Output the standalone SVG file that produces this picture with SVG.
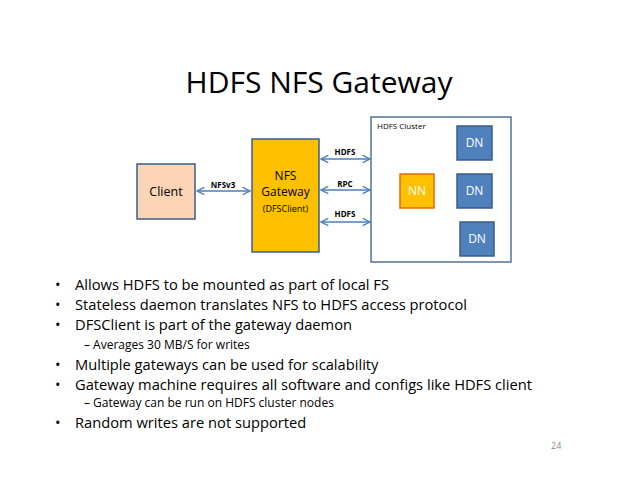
<svg xmlns="http://www.w3.org/2000/svg" width="638" height="493" viewBox="0 0 638 493">
<defs>
<marker id="a" viewBox="0 0 10 10" refX="9" refY="5" markerWidth="7" markerHeight="7" orient="auto-start-reverse"><path d="M1,1 L9,5 L1,9" fill="none" stroke="#4a7ebb" stroke-width="1.5"/></marker>
</defs>
<style>
text{font-family:"Open Sans","Liberation Sans",sans-serif;fill:#000}
.c{stroke:#4a7ebb;stroke-width:1.3;fill:none;marker-start:url(#a);marker-end:url(#a)}
.lbl{font-size:8px;font-weight:bold;text-anchor:middle}
.dn{fill:#4f81bd;stroke:#385d8a;stroke-width:1.5}
.w{fill:#fff;font-size:12px;text-anchor:middle}
.b{font-size:14.7px}
.s{font-size:12px}
</style>
<rect width="638" height="493" fill="#fff"/>
<text x="319" y="93" font-size="30" text-anchor="middle">HDFS NFS Gateway</text>
<g id="cluster"><rect x="371" y="117" width="140" height="145" fill="#fff" stroke="#385d8a" stroke-width="1.3"/><text x="377" y="129" font-size="8">HDFS Cluster</text></g>
<g id="client"><rect x="137" y="164" width="58" height="55" fill="#fbd5b5" stroke="#385d8a" stroke-width="1.5"/><text x="166" y="196" font-size="12.5" text-anchor="middle">Client</text></g>
<g id="gateway"><rect x="252" y="139" width="67" height="113" fill="#ffc000" stroke="#385d8a" stroke-width="1.5"/><text x="285.5" y="180" font-size="12" text-anchor="middle">NFS</text><text x="285.5" y="196" font-size="12" text-anchor="middle">Gateway</text><text x="285.5" y="212" font-size="9" text-anchor="middle">(DFSClient)</text></g>
<g id="nn"><rect x="400" y="174" width="34" height="34" fill="#ffc000" stroke="#e46c0a" stroke-width="1.5"/><text x="417" y="195" class="w">NN</text></g>
<g id="dn1"><rect x="457" y="126" width="35" height="34" class="dn"/><text x="474.5" y="147" class="w">DN</text></g>
<g id="dn2"><rect x="457" y="174" width="35" height="34" class="dn"/><text x="474.5" y="195" class="w">DN</text></g>
<g id="dn3"><rect x="460" y="222" width="34" height="34" class="dn"/><text x="477" y="243" class="w">DN</text></g>
<g id="connectors">
<line x1="197" y1="191" x2="250" y2="191" class="c"/>
<line x1="321" y1="159" x2="370" y2="159" class="c"/>
<line x1="321" y1="190" x2="370" y2="190" class="c"/>
<line x1="321" y1="222" x2="370" y2="222" class="c"/>
</g>
<text x="223" y="188" class="lbl">NFSv3</text>
<text x="345" y="155" class="lbl">HDFS</text>
<text x="345" y="187" class="lbl">RPC</text>
<text x="345" y="217" class="lbl">HDFS</text>
<g class="b">
<text x="55" y="290">•</text><text x="75" y="290">Allows HDFS to be mounted as part of local FS</text>
<text x="55" y="310">•</text><text x="75" y="310">Stateless daemon translates NFS to HDFS access protocol</text>
<text x="55" y="330">•</text><text x="75" y="330">DFSClient is part of the gateway daemon</text>
<text x="55" y="370">•</text><text x="75" y="370">Multiple gateways can be used for scalability</text>
<text x="55" y="390">•</text><text x="75" y="390">Gateway machine requires all software and configs like HDFS client</text>
<text x="55" y="428">•</text><text x="75" y="428">Random writes are not supported</text>
</g>
<text x="84" y="349" class="s">–  Averages 30 MB/S for writes</text>
<text x="84" y="407" class="s">–  Gateway can be run on HDFS cluster nodes</text>
<text x="551" y="449" font-size="9" style="fill:#888">24</text>
</svg>
